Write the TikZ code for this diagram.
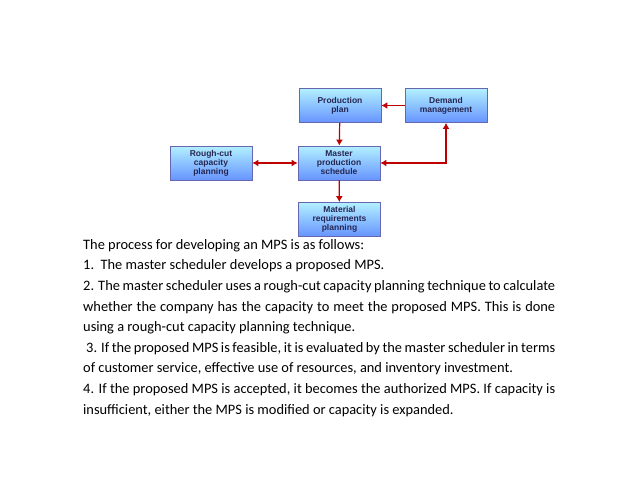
\documentclass[tikz,border=0pt]{standalone}
\usepackage{fontspec}
\setmainfont{Carlito}
\newfontfamily\boxfont{Liberation Sans}
\usetikzlibrary{arrows.meta}
\begin{document}
\begin{tikzpicture}[x=1pt,y=-1pt,
  box/.style={draw=blue!50!black!60,line width=0.8pt,top color=blue!20!cyan!30,bottom color=blue!70!cyan!60,
    minimum width=82pt,minimum height=34pt,inner sep=1pt,align=center,
    font=\boxfont\bfseries\fontsize{8.5}{9}\selectfont,text=blue!20!black!85},
  arr/.style={draw=red!75!black,line width=1.2pt,-{Latex[length=6pt,width=7pt]}},
  darr/.style={arr,{Latex[length=6pt,width=7pt]}-{Latex[length=6pt,width=7pt]}}]
\useasboundingbox (0,0) rectangle (638,493);
\node[box] (pp) at (340,105.5) {Production\\plan};
\node[box] (dm) at (446,105.5) {Demand\\management};
\node[box] (rc) at (211,163) {Rough-cut\\capacity\\planning};
\node[box] (mps) at (339,163) {Master\\production\\schedule};
\node[box] (mrp) at (339.5,219.5) {Material\\requirements\\planning};
\draw[arr] (dm) -- (pp);
\draw[arr] (pp) -- (mps);
\draw[arr] (mps) -- (mrp);
\draw[darr] (rc) -- (mps);
\draw[darr] (mps.east) -| (dm.south);
\node[anchor=north west,inner sep=0pt,text width=472pt,align=justify,
  font=\fontsize{14.4}{20.6}\selectfont] (txt) at (83,239) {\hyphenpenalty=10000\relax
The process for developing an MPS is as follows:\\
1.\ \ The master scheduler develops a proposed MPS.\\
2. The master scheduler uses a rough-cut capacity planning technique to calculate\linebreak
whether the company has the capacity to meet the proposed MPS. This is done\linebreak
using a rough-cut capacity planning technique.\\
\hspace*{3pt}3. If the proposed MPS is feasible, it is evaluated by the master scheduler in terms\linebreak
of customer service, effective use of resources, and inventory investment.\\
4. If the proposed MPS is accepted, it becomes the authorized MPS. If capacity is\linebreak
insufficient, either the MPS is modified or capacity is expanded.\par};
\end{tikzpicture}
\end{document}
